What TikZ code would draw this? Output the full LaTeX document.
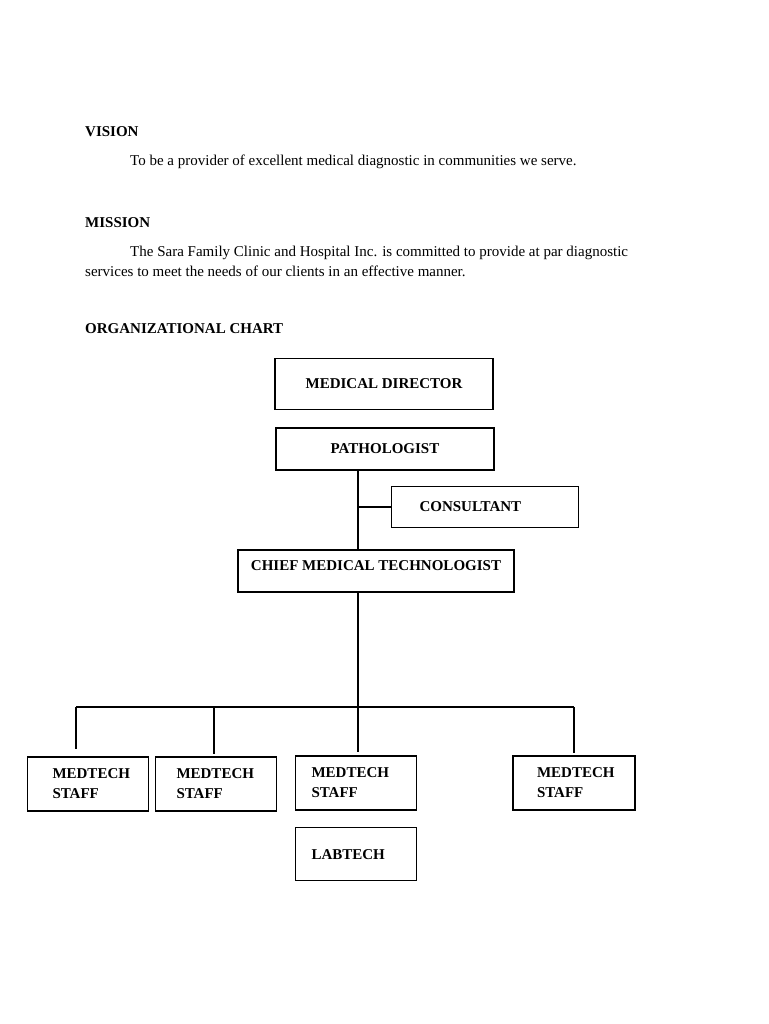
\documentclass[tikz,border=0pt]{standalone}
\usepackage{fontspec}
\setmainfont{Liberation Serif}
\usetikzlibrary{positioning,calc}

\begin{document}
\begin{tikzpicture}[
        x=1pt, y=-1pt,
        every node/.style={font=\fontsize{15}{20}\selectfont},
        heading/.style={anchor=base west, inner sep=0pt, font=\fontsize{15}{20}\selectfont\bfseries},
        para/.style={anchor=base west, inner sep=0pt},
        unit/.style={rectangle, draw, line width=1.6pt, minimum width=218pt, minimum height=42pt, align=center, font=\fontsize{15}{20}\selectfont\bfseries},
        staff/.style 2 args={rectangle, draw, line width=1.6pt, minimum height=54pt, inner xsep=#1, text width=#2, align=left, font=\fontsize{15}{20}\selectfont\bfseries},
        link/.style={line width=2pt}
    ]
        \useasboundingbox (0,0) rectangle (768,1024);

        % Vision
        \node[heading] (vision) at (85,137) {VISION};
        \node[para] (visiontext) at (130,166) {To be a provider of excellent medical diagnostic in communities we serve.};

        % Mission
        \node[heading] (mission) at (85,227) {MISSION};
        \node[para] (missiontext) at (130,256) {The Sara Family Clinic and Hospital Inc. is committed to provide at par diagnostic};
        \node[para] (missiontextb) at (85,276) {services to meet the needs of our clients in an effective manner.};

        % Chart
        \node[heading] (charttitle) at (85,333) {ORGANIZATIONAL CHART};

        \node[unit, minimum height=51pt] (director) at (384,384) {MEDICAL DIRECTOR};
        \node[unit] (patho) at (385,449) {PATHOLOGIST};
        \node[unit, minimum width=187pt, minimum height=41pt, text width=131pt, inner xsep=28pt, align=left] (consult) at (485,507) {CONSULTANT};
        \node[unit, minimum width=276pt, text depth=10pt] (chief) at (376,571) {CHIEF MEDICAL TECHNOLOGIST};

        % Staff row
        \node[staff={25pt}{71pt}] (staffa) at (88,784) {MEDTECH\\STAFF};
        \node[staff={21pt}{79pt}] (staffb) at (216,784) {MEDTECH\\STAFF};
        \node[staff={16pt}{89pt}] (staffc) at (356,783) {MEDTECH\\STAFF};
        \node[staff={24pt}{74pt}] (staffd) at (574,783) {MEDTECH\\STAFF};
        \node[staff={16pt}{89pt}, minimum height=53pt, below=16pt of staffc] (labtech) {LABTECH};

        % Connector points
        \coordinate (spine) at (358,0);
        \coordinate (bus) at (0,707);
        \coordinate (dropa) at (76,749);
        \coordinate (dropb) at (214,754);
        \coordinate (dropc) at (358,752);
        \coordinate (dropd) at (574,753);

        % Connectors
        \draw[link] (spine |- patho.south) -- (spine |- chief.north);
        \draw[link] (spine |- consult.west) -- (consult.west);
        \draw[link] (spine |- chief.south) -- (spine |- bus);
        \draw[link] (dropa |- bus) -- (dropd |- bus);
        \draw[link] (dropa |- bus) -- (dropa);
        \draw[link] (dropb |- bus) -- (dropb);
        \draw[link] (dropc |- bus) -- (dropc);
        \draw[link] (dropd |- bus) -- (dropd);

\end{tikzpicture}
\end{document}
